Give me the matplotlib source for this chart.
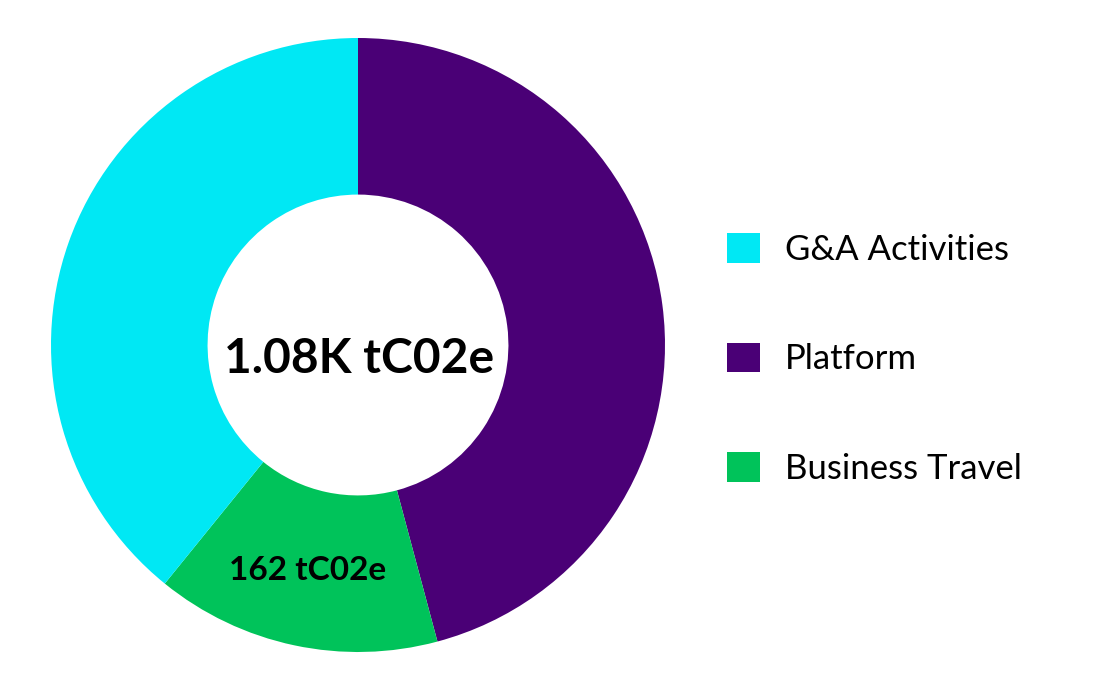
import matplotlib
matplotlib.use("Agg")
import matplotlib.pyplot as plt

categorias = ["G&A Activities", "Platform", "Business Travel"]
valores = [423, 495, 162]
colores = ["#00E8F4", "#4A0076", "#00C35A"]
texto_total = "1.08K tC02e"
texto_viaje = "162 tC02e"

plt.rcParams["font.family"] = ["Lato", "DejaVu Sans"]

fig = plt.figure(figsize=(11.1, 6.88), dpi=100)
ax = fig.add_axes([51 / 1110, 36 / 688, 614 / 1110, 614 / 688])

# orden de dibujo: en sentido horario desde arriba, Platform primero
orden = [1, 2, 0]
cunas, _ = ax.pie([valores[i] for i in orden],
                  colors=[colores[i] for i in orden],
                  startangle=90, counterclock=False, radius=1,
                  wedgeprops=dict(width=0.51, linewidth=0))
ax.set_xlim(-1, 1)
ax.set_ylim(-1, 1)
ax.set_aspect("equal")
ax.axis("off")

ax.text(0.005, -0.045, texto_total, ha="center", va="center",
        fontsize=34.5, fontweight="bold", color="black")
ax.text(-0.165, -0.735, texto_viaje, ha="center", va="center",
        fontsize=24, fontweight="bold", color="black")

# leyenda en el orden de las categorias
mapa = {orden[k]: cunas[k] for k in range(3)}
fig.legend([mapa[i] for i in range(3)], categorias,
           loc="center left", bbox_to_anchor=(696 / 1110, 329 / 688),
           frameon=False, fontsize=25, handlelength=0.95, handleheight=0.95,
           handletextpad=0.72, labelspacing=2.2)

fig.savefig("out.png", dpi=100)
